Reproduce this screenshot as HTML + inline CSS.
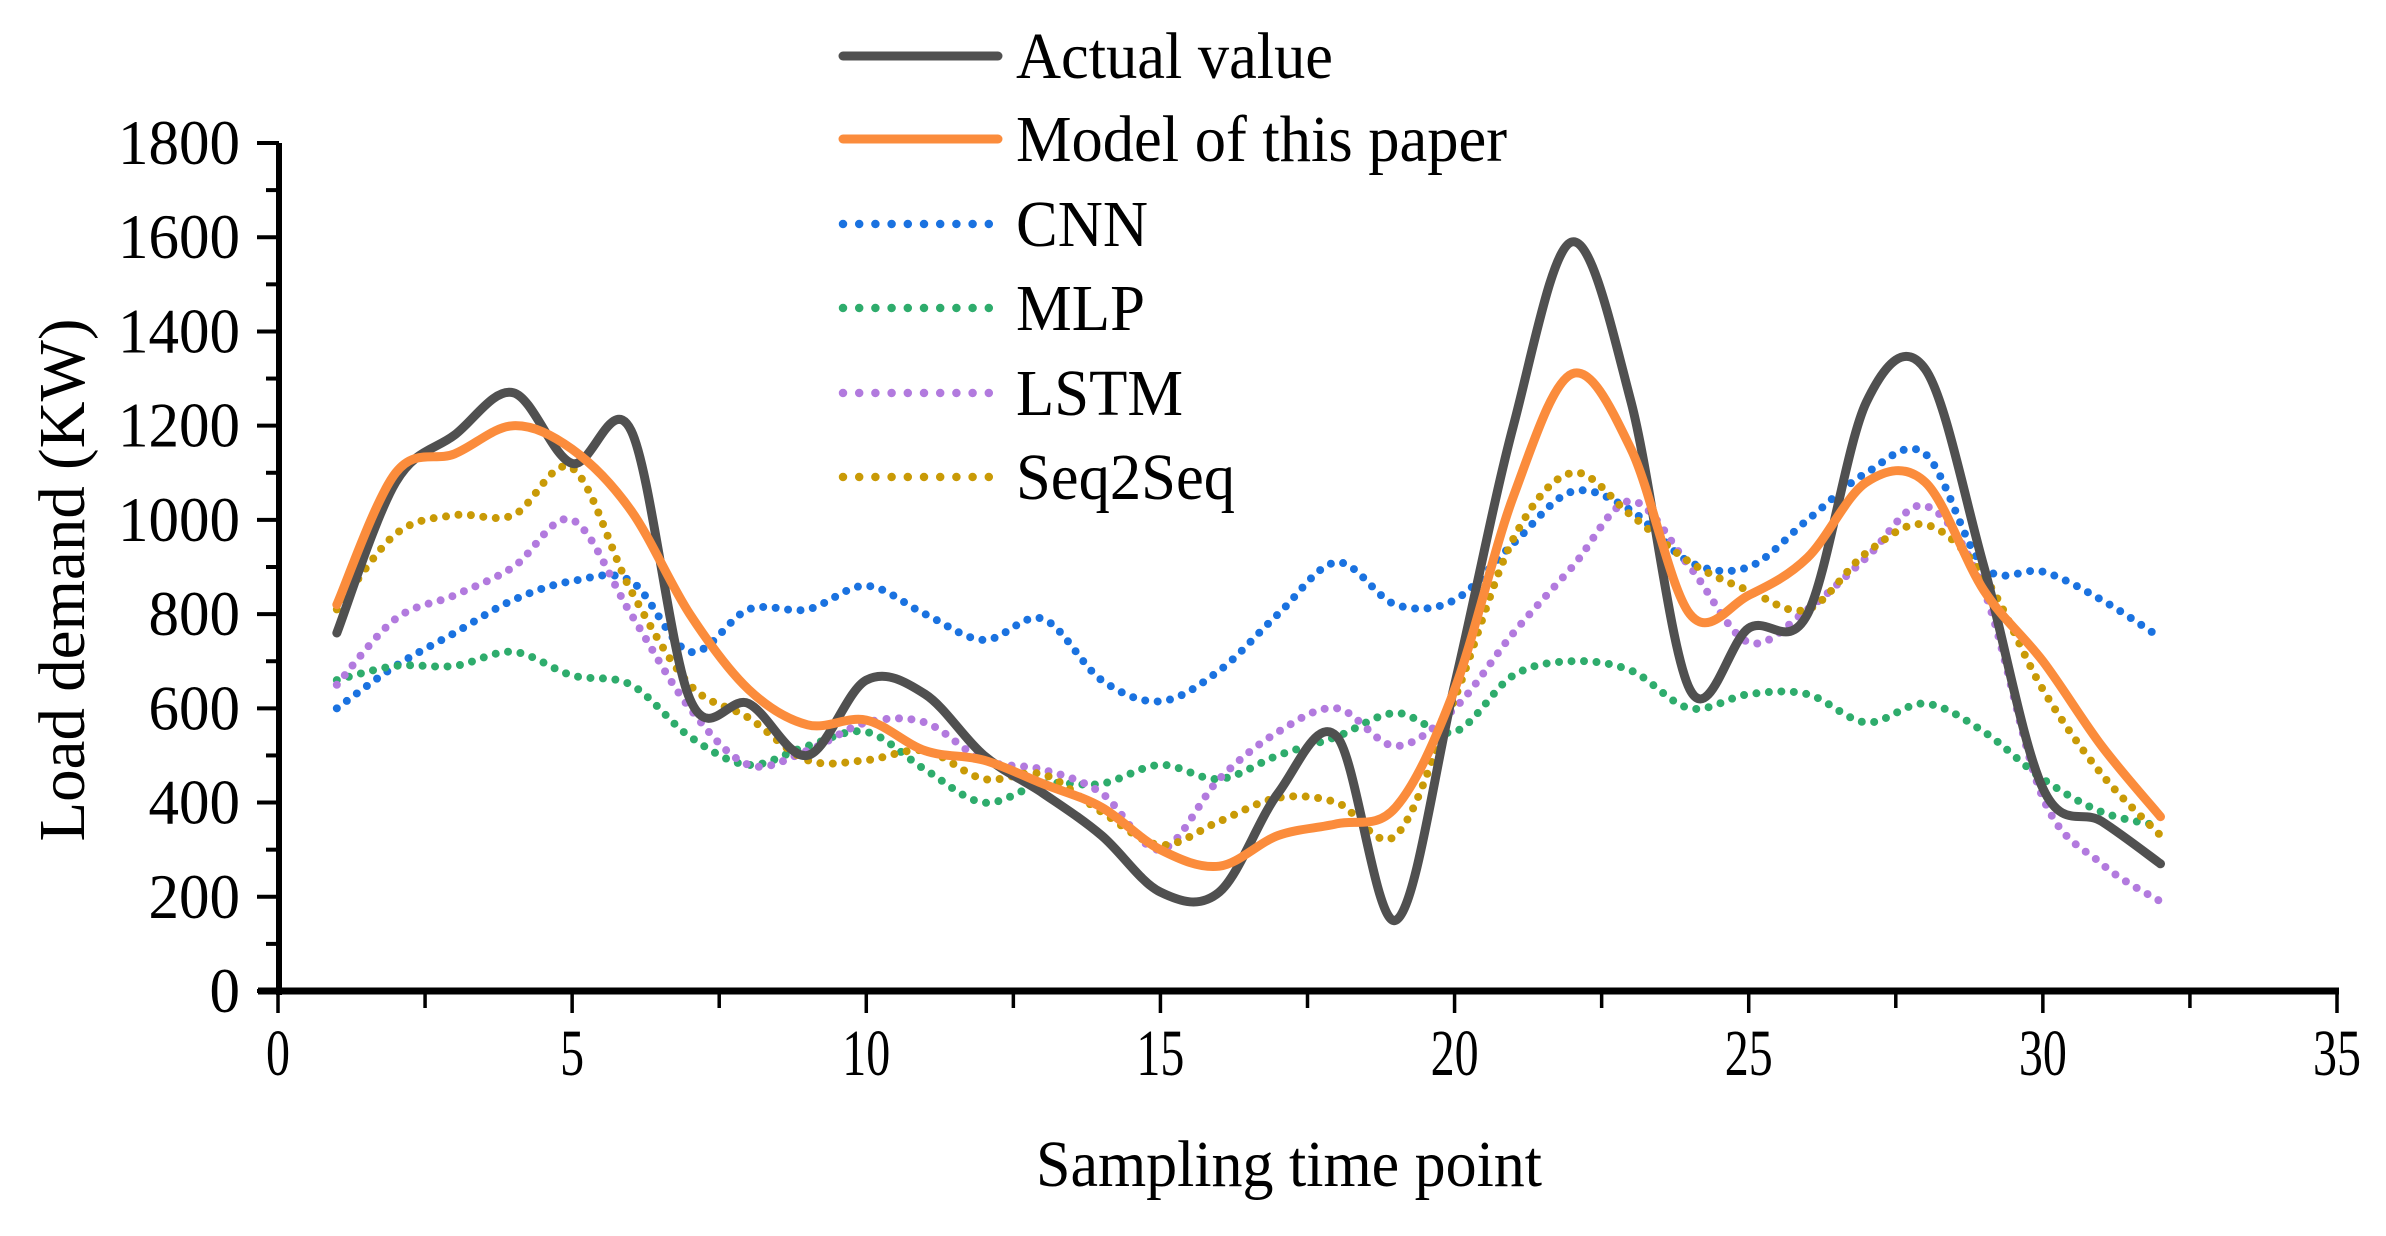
<!DOCTYPE html>
<html><head><meta charset="utf-8"><style>html,body{margin:0;padding:0;background:#fff}svg{display:block}</style></head>
<body>
<svg id="s" width="2386" height="1236" viewBox="0 0 2386 1236" xmlns="http://www.w3.org/2000/svg" font-family="'Liberation Serif', serif">
<g id="ax" stroke="#000" fill="none"></g>
<g id="series" fill="none" stroke-linejoin="round"></g>
<g id="txt" fill="#000"></g>
</svg>
<script>
const NS="http://www.w3.org/2000/svg";
const X0=278,XS=(2337-278)/35,Y0=991,YS=(991-143)/1800;
const px=t=>X0+t*XS, py=v=>Y0-v*YS;
function el(p,tag,a,t){const e=document.createElementNS(NS,tag);for(const k in a)e.setAttribute(k,a[k]);if(t!=null)e.textContent=t;document.getElementById(p).appendChild(e);return e;}
el('ax','line',{x1:279,y1:143,x2:279,y2:995,'stroke-width':6});
el('ax','line',{x1:258,y1:991,x2:2339,y2:991,'stroke-width':7});
for(let v=0;v<=1800;v+=100){const y=py(v);el('ax','line',{x1:v%200?266:257,y1:y,x2:279,y2:y,'stroke-width':4});
 if(v%200==0){const s=String(v);el('txt','text',{x:240,y:y+21,'font-size':64,'text-anchor':'end',textLength:s.length*30.5,lengthAdjust:'spacingAndGlyphs'},s);}}
for(let t=0;t<=35;t+=2.5){const x=px(t);el('ax','line',{x1:x,y1:991,x2:x,y2:t%5?1008:1013,'stroke-width':3.5});
 if(t%5==0){const s=String(t);el('txt','text',{x:x,y:1075,'font-size':66,'text-anchor':'middle',textLength:s.length*24,lengthAdjust:'spacingAndGlyphs'},s);}}
el('txt','text',{x:1289,y:1186,'font-size':66,'text-anchor':'middle',textLength:506,lengthAdjust:'spacingAndGlyphs'},'Sampling time point');
el('txt','text',{x:0,y:0,'font-size':66,'text-anchor':'middle',textLength:523,lengthAdjust:'spacingAndGlyphs',transform:'translate(84,580) rotate(-90)'},'Load demand (KW)');
const D={
act:[760,1080,1180,1270,1120,1190,620,610,500,660,630,500,420,330,210,210,420,540,150,650,1200,1590,1250,640,770,800,1250,1320,900,430,360,270],
mod:[820,1100,1140,1200,1150,1020,800,640,565,575,510,490,440,390,300,265,330,355,390,640,1050,1310,1150,800,840,920,1080,1080,850,700,520,370],
cnn:[600,690,760,830,870,870,720,810,810,860,800,745,790,660,615,680,800,910,820,830,950,1060,1020,910,900,1000,1100,1140,900,890,830,750],
mlp:[660,690,690,720,670,650,540,480,520,550,470,400,440,440,480,450,500,540,590,550,670,700,680,600,630,630,570,610,550,450,380,350],
lstm:[650,790,840,900,1000,800,600,480,510,570,570,490,470,420,300,450,550,600,520,600,760,900,1040,900,740,810,920,1030,850,410,270,190],
seq:[810,970,1010,1010,1110,850,650,580,490,490,510,450,460,380,310,360,410,400,330,620,960,1100,1010,910,850,810,930,990,880,640,460,330]};
function path(a){const P=a.map((v,i)=>[px(i+1),py(v)]);let d=`M${P[0][0]},${P[0][1]}`;
 for(let i=0;i<P.length-1;i++){const p0=P[i-1]||P[i],p1=P[i],p2=P[i+1],p3=P[i+2]||P[i+1];
  const c1=[p1[0]+(p2[0]-p0[0])/6,p1[1]+(p2[1]-p0[1])/6],c2=[p2[0]-(p3[0]-p1[0])/6,p2[1]-(p3[1]-p1[1])/6];
  d+=` C${c1[0].toFixed(1)},${c1[1].toFixed(1)} ${c2[0].toFixed(1)},${c2[1].toFixed(1)} ${p2[0].toFixed(1)},${p2[1].toFixed(1)}`;}return d;}
const S=[['cnn','#1a72e0',1],['mlp','#2eac6c',1],['lstm','#b27ade',1],['seq','#c99a06',1],['act','#505050',0],['mod','#fb8c3c',0]];
for(const [k,c,dot] of S){const a={d:path(D[k]),stroke:c,'stroke-width':dot?8:9,'stroke-linecap':'round'};if(dot)a['stroke-dasharray']='0 12.5';el('series','path',a);}
const L=[['act','#505050',0,'Actual value',317],['mod','#fb8c3c',0,'Model of this paper',491],['cnn','#1a72e0',1,'CNN',132],['mlp','#2eac6c',1,'MLP',129],['lstm','#b27ade',1,'LSTM',167],['seq','#c99a06',1,'Seq2Seq',219]];
const LY=[56,139,224,308,393,477];
L.forEach((l,i)=>{const y=LY[i];const a={x1:843,y1:y,x2:998,y2:y,stroke:l[1],'stroke-width':l[2]?8.5:9,'stroke-linecap':'round'};if(l[2])a['stroke-dasharray']='0 16.2';el('series','line',a);
 el('txt','text',{x:1016,y:y+22,'font-size':66,textLength:l[4],lengthAdjust:'spacingAndGlyphs'},l[3]);});
</script>
</body></html>
